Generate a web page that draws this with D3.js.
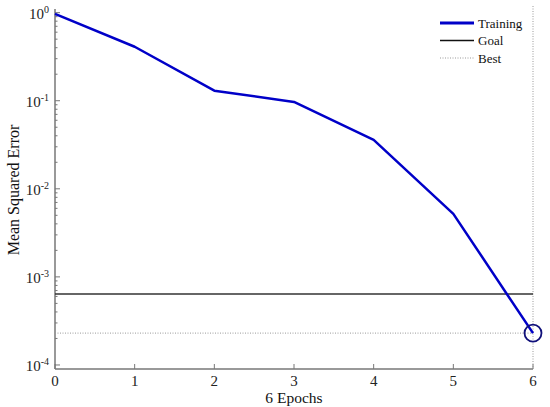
<!DOCTYPE html>
<html>
<head>
<meta charset="utf-8">
<script src="https://cdn.jsdelivr.net/npm/d3@7"></script>
<style>
  html, body { margin: 0; padding: 0; background: #fff; }
  svg { display: block; font-family: "Liberation Serif", "Times New Roman", serif; }
</style>
</head>
<body>
<svg id="chart" width="550" height="407"></svg>
<script>
// ---- data ----
const epochs = [0, 1, 2, 3, 4, 5, 6];
const trainingMSE = [0.97, 0.41, 0.13, 0.097, 0.036, 0.0052, 0.00023];
const goalMSE = 0.00064;
const bestEpoch = 6;
const bestMSE = 0.00023;
const xTicks = [0, 1, 2, 3, 4, 5, 6];
const yTickExps = [0, -1, -2, -3, -4];
const legendLabels = ["Training", "Goal", "Best"];
const xLabel = "6 Epochs";
const yLabel = "Mean Squared Error";

// ---- scales ----
const svg = d3.select("#chart");
const x = d3.scaleLinear().domain([0, 6]).range([55, 533]);
const y = d3.scaleLog().domain([9e-5, 1.1]).range([369, 9]);

const axisColor = "#777";

// left axis line
svg.append("line")
  .attr("x1", x(0)).attr("x2", x(0))
  .attr("y1", y.range()[1]).attr("y2", y.range()[0])
  .attr("stroke", axisColor).attr("stroke-width", 1.5);
// bottom axis line
svg.append("line")
  .attr("x1", x(0)).attr("x2", x(6))
  .attr("y1", y.range()[0]).attr("y2", y.range()[0])
  .attr("stroke", axisColor).attr("stroke-width", 1.5);

// y major ticks + minor ticks
const minor = [];
yTickExps.forEach(e => {
  if (e > -4) {
    for (let m = 2; m <= 9; m++) minor.push(m * Math.pow(10, e - 1));
  }
});
minor.filter(v => v >= 9e-5 && v <= 1.1).forEach(v => {
  svg.append("line")
    .attr("x1", x(0)).attr("x2", x(0) + 2.5)
    .attr("y1", y(v)).attr("y2", y(v))
    .attr("stroke", axisColor).attr("stroke-width", 1);
});
yTickExps.forEach(e => {
  const v = Math.pow(10, e);
  svg.append("line")
    .attr("x1", x(0)).attr("x2", x(0) + 5)
    .attr("y1", y(v)).attr("y2", y(v))
    .attr("stroke", axisColor).attr("stroke-width", 1);
  const t = svg.append("text")
    .attr("x", 49).attr("y", y(v) + 6)
    .attr("text-anchor", "end")
    .attr("font-size", 15).attr("fill", "#222");
  t.append("tspan").text("10");
  t.append("tspan").attr("dy", -6).attr("font-size", 10).text(String(e));
});

// x ticks
xTicks.forEach(v => {
  svg.append("line")
    .attr("x1", x(v)).attr("x2", x(v))
    .attr("y1", y.range()[0]).attr("y2", y.range()[0] - 5)
    .attr("stroke", axisColor).attr("stroke-width", 1);
  svg.append("text")
    .attr("x", x(v)).attr("y", 386)
    .attr("text-anchor", "middle")
    .attr("font-size", 15).attr("fill", "#222")
    .text(v);
});

// axis labels
svg.append("text")
  .attr("x", x(3)).attr("y", 403)
  .attr("text-anchor", "middle")
  .attr("font-size", 15.5).attr("fill", "#111")
  .text(xLabel);
svg.append("text")
  .attr("transform", "translate(19,190) rotate(-90)")
  .attr("text-anchor", "middle")
  .attr("font-size", 16).attr("fill", "#111")
  .text(yLabel);

// best vertical dotted line
svg.append("line")
  .attr("x1", x(bestEpoch)).attr("x2", x(bestEpoch))
  .attr("y1", 6).attr("y2", y.range()[0])
  .attr("stroke", "#999").attr("stroke-width", 1)
  .attr("stroke-dasharray", "1,1.5");
// best horizontal dotted line
svg.append("line")
  .attr("x1", x(0)).attr("x2", x(6))
  .attr("y1", y(bestMSE)).attr("y2", y(bestMSE))
  .attr("stroke", "#999").attr("stroke-width", 1)
  .attr("stroke-dasharray", "1,1.5");
// goal line
svg.append("line")
  .attr("x1", x(0)).attr("x2", x(6))
  .attr("y1", y(goalMSE)).attr("y2", y(goalMSE))
  .attr("stroke", "#333").attr("stroke-width", 1.5);

// training line
const line = d3.line().x((d, i) => x(epochs[i])).y(d => y(d));
svg.append("path")
  .datum(trainingMSE)
  .attr("d", line)
  .attr("fill", "none")
  .attr("stroke", "#0000c8").attr("stroke-width", 2.5)
  .attr("stroke-linejoin", "round");

// best circle
svg.append("circle")
  .attr("cx", x(bestEpoch)).attr("cy", y(bestMSE)).attr("r", 8.5)
  .attr("fill", "none").attr("stroke", "#10107a").attr("stroke-width", 1.8);

// legend
const legendStyles = [
  { stroke: "#0000c8", width: 3, dash: null },
  { stroke: "#111", width: 1.5, dash: null },
  { stroke: "#999", width: 1, dash: "1,1.5" }
];
legendLabels.forEach((lab, i) => {
  const ly = 23 + i * 17.5;
  const s = legendStyles[i];
  svg.append("line")
    .attr("x1", 440).attr("x2", 474)
    .attr("y1", ly).attr("y2", ly)
    .attr("stroke", s.stroke).attr("stroke-width", s.width)
    .attr("stroke-dasharray", s.dash);
  svg.append("text")
    .attr("x", 478).attr("y", ly + 4.5)
    .attr("font-size", 13).attr("fill", "#111")
    .text(lab);
});
</script>
</body>
</html>
